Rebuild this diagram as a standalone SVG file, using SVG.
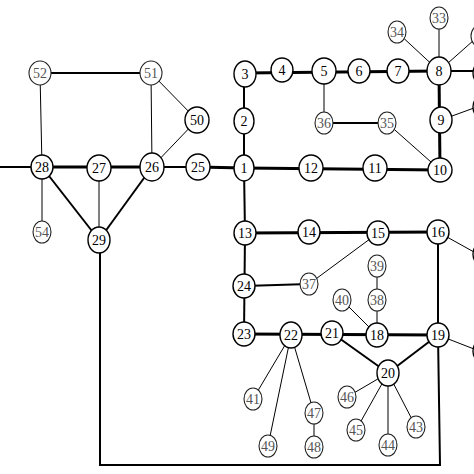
<svg xmlns="http://www.w3.org/2000/svg" width="474" height="474" viewBox="0 0 474 474">
<style>
.n ellipse{fill:#fff;stroke:#000;stroke-width:1.4}
.g ellipse{fill:#fff;stroke:#222;stroke-width:1.1}
text{font-family:"Liberation Serif","DejaVu Serif",serif;font-size:14px;text-anchor:middle;dominant-baseline:central}
.n text{fill:#000}
.g text{fill:#555}
.e line,.e polyline{stroke:#000;fill:none}
.t1{stroke-width:1}
.t2{stroke-width:2}
.t3{stroke-width:3}
</style>
<rect width="474" height="474" fill="#fff"/>
<g class="e" id="connectors">
<line class="t2" x1="0" y1="167" x2="42" y2="167"/>
<line class="t2" x1="40" y1="73" x2="151" y2="73"/>
<line class="t1" x1="40" y1="73" x2="42" y2="167"/>
<line class="t1" x1="151" y1="73" x2="152" y2="167"/>
<line class="t1" x1="151" y1="73" x2="197" y2="120"/>
<line class="t1" x1="197" y1="120" x2="152" y2="167"/>
<line class="t3" x1="42" y1="167" x2="152" y2="167"/>
<line class="t2" x1="152" y1="167" x2="198" y2="167"/>
<line class="t3" x1="198" y1="167" x2="244" y2="168"/>
<line class="t1" x1="42" y1="167" x2="42" y2="232"/>
<line class="t2" x1="42" y1="167" x2="99" y2="240"/>
<line class="t2" x1="152" y1="167" x2="99" y2="240"/>
<line class="t1" x1="99" y1="168" x2="99" y2="240"/>
<polyline class="t2" points="100,240 100,465 440,465 438,335"/>
<line class="t2" x1="244" y1="73" x2="244" y2="168"/>
<line class="t3" x1="244" y1="73" x2="439" y2="71"/>
<line class="t1" x1="324" y1="71" x2="324" y2="123"/>
<line class="t2" x1="324" y1="123" x2="387" y2="123"/>
<line class="t1" x1="387" y1="123" x2="440" y2="170"/>
<line class="t3" x1="439" y1="71" x2="440" y2="170"/>
<line class="t3" x1="244" y1="168" x2="440" y2="170"/>
<line class="t1" x1="439" y1="71" x2="397" y2="32"/>
<line class="t1" x1="439" y1="71" x2="439" y2="18"/>
<line class="t1" x1="439" y1="71" x2="474" y2="40"/>
<line class="t2" x1="439" y1="71" x2="474" y2="71"/>
<line class="t1" x1="441" y1="120" x2="474" y2="108"/>
<line class="t2" x1="244" y1="168" x2="245" y2="233"/>
<line class="t3" x1="245" y1="233" x2="438" y2="232"/>
<line class="t2" x1="245" y1="233" x2="244" y2="334"/>
<line class="t2" x1="244" y1="286" x2="309" y2="284"/>
<line class="t1" x1="378" y1="233" x2="309" y2="284"/>
<line class="t2" x1="438" y1="232" x2="438" y2="335"/>
<line class="t1" x1="438" y1="232" x2="474" y2="252"/>
<line class="t1" x1="438" y1="335" x2="474" y2="349"/>
<line class="t3" x1="244" y1="334" x2="438" y2="335"/>
<line class="t1" x1="377" y1="266" x2="377" y2="335"/>
<line class="t1" x1="342" y1="300" x2="377" y2="335"/>
<line class="t2" x1="332" y1="333" x2="388" y2="373"/>
<line class="t2" x1="388" y1="373" x2="438" y2="335"/>
<line class="t1" x1="388" y1="373" x2="347" y2="397"/>
<line class="t1" x1="388" y1="373" x2="356" y2="430"/>
<line class="t1" x1="388" y1="373" x2="388" y2="445"/>
<line class="t1" x1="388" y1="373" x2="416" y2="427"/>
<line class="t1" x1="291" y1="335" x2="253" y2="399"/>
<line class="t1" x1="291" y1="335" x2="268" y2="446"/>
<line class="t1" x1="291" y1="335" x2="314" y2="413"/>
<line class="t1" x1="314" y1="413" x2="314" y2="447"/>
</g>
<g class="g" id="node52"><ellipse cx="40" cy="73" rx="11" ry="12"/><text x="40" y="73">52</text></g>
<g class="g" id="node51"><ellipse cx="151" cy="73" rx="11" ry="12"/><text x="151" y="73">51</text></g>
<g class="n" id="node50"><ellipse cx="197" cy="120" rx="12" ry="13"/><text x="197" y="120">50</text></g>
<g class="n" id="node28"><ellipse cx="42" cy="167" rx="11" ry="12"/><text x="42" y="167">28</text></g>
<g class="n" id="node27"><ellipse cx="99" cy="168" rx="12" ry="13"/><text x="99" y="168">27</text></g>
<g class="n" id="node26"><ellipse cx="152" cy="167" rx="12" ry="14"/><text x="152" y="167">26</text></g>
<g class="n" id="node25"><ellipse cx="198" cy="167" rx="12" ry="13"/><text x="198" y="167">25</text></g>
<g class="g" id="node54"><ellipse cx="42" cy="232" rx="9" ry="11"/><text x="42" y="232">54</text></g>
<g class="n" id="node29"><ellipse cx="99" cy="240" rx="11" ry="13"/><text x="99" y="240">29</text></g>
<g class="n" id="node1"><ellipse cx="244" cy="168" rx="10" ry="13"/><text x="244" y="168">1</text></g>
<g class="n" id="node2"><ellipse cx="244" cy="121" rx="10" ry="13"/><text x="244" y="121">2</text></g>
<g class="n" id="node3"><ellipse cx="245" cy="74" rx="11" ry="13"/><text x="245" y="74">3</text></g>
<g class="n" id="node4"><ellipse cx="282" cy="70" rx="11" ry="12"/><text x="282" y="70">4</text></g>
<g class="n" id="node5"><ellipse cx="324" cy="71" rx="12" ry="13"/><text x="324" y="71">5</text></g>
<g class="n" id="node6"><ellipse cx="359" cy="71" rx="11" ry="12"/><text x="359" y="71">6</text></g>
<g class="n" id="node7"><ellipse cx="398" cy="71" rx="11" ry="12"/><text x="398" y="71">7</text></g>
<g class="n" id="node8"><ellipse cx="439" cy="71" rx="12" ry="14"/><text x="439" y="71">8</text></g>
<g class="n" id="node9"><ellipse cx="441" cy="120" rx="11" ry="13"/><text x="441" y="120">9</text></g>
<g class="n" id="node10"><ellipse cx="440" cy="170" rx="12" ry="12"/><text x="440" y="170">10</text></g>
<g class="n" id="node11"><ellipse cx="375" cy="168" rx="12" ry="13"/><text x="375" y="168">11</text></g>
<g class="n" id="node12"><ellipse cx="311" cy="168" rx="12" ry="13"/><text x="311" y="168">12</text></g>
<g class="g" id="node36"><ellipse cx="324" cy="123" rx="9" ry="11"/><text x="324" y="123">36</text></g>
<g class="g" id="node35"><ellipse cx="387" cy="123" rx="9" ry="11"/><text x="387" y="123">35</text></g>
<g class="g" id="node34"><ellipse cx="397" cy="32" rx="9" ry="11"/><text x="397" y="32">34</text></g>
<g class="g" id="node33"><ellipse cx="439" cy="18" rx="9" ry="11"/><text x="439" y="18">33</text></g>
<g class="g" id="nodeR1"><ellipse cx="482" cy="36" rx="11" ry="12"/></g>
<g class="n" id="nodeR2"><ellipse cx="484" cy="73" rx="11" ry="12"/></g>
<g class="n" id="nodeR3"><ellipse cx="484" cy="107" rx="11" ry="12"/></g>
<g class="n" id="nodeR4"><ellipse cx="484" cy="254" rx="11" ry="12"/></g>
<g class="n" id="nodeR5"><ellipse cx="484" cy="351" rx="11" ry="12"/></g>
<g class="n" id="node13"><ellipse cx="245" cy="233" rx="11" ry="12"/><text x="245" y="233">13</text></g>
<g class="n" id="node14"><ellipse cx="309" cy="232" rx="11" ry="12"/><text x="309" y="232">14</text></g>
<g class="n" id="node15"><ellipse cx="378" cy="233" rx="11" ry="12"/><text x="378" y="233">15</text></g>
<g class="n" id="node16"><ellipse cx="438" cy="232" rx="11" ry="12"/><text x="438" y="232">16</text></g>
<g class="n" id="node24"><ellipse cx="244" cy="286" rx="11" ry="12"/><text x="244" y="286">24</text></g>
<g class="g" id="node37"><ellipse cx="309" cy="284" rx="9" ry="11"/><text x="309" y="284">37</text></g>
<g class="g" id="node39"><ellipse cx="377" cy="266" rx="9" ry="11"/><text x="377" y="266">39</text></g>
<g class="g" id="node38"><ellipse cx="377" cy="300" rx="9" ry="11"/><text x="377" y="300">38</text></g>
<g class="g" id="node40"><ellipse cx="342" cy="300" rx="9" ry="11"/><text x="342" y="300">40</text></g>
<g class="n" id="node23"><ellipse cx="244" cy="334" rx="11" ry="12"/><text x="244" y="334">23</text></g>
<g class="n" id="node22"><ellipse cx="291" cy="335" rx="11" ry="13"/><text x="291" y="335">22</text></g>
<g class="n" id="node21"><ellipse cx="332" cy="333" rx="11" ry="12"/><text x="332" y="333">21</text></g>
<g class="n" id="node18"><ellipse cx="377" cy="335" rx="11" ry="12"/><text x="377" y="335">18</text></g>
<g class="n" id="node19"><ellipse cx="438" cy="335" rx="11" ry="12"/><text x="438" y="335">19</text></g>
<g class="n" id="node20"><ellipse cx="388" cy="373" rx="11" ry="13"/><text x="388" y="373">20</text></g>
<g class="g" id="node46"><ellipse cx="347" cy="397" rx="9" ry="11"/><text x="347" y="397">46</text></g>
<g class="g" id="node45"><ellipse cx="356" cy="430" rx="9" ry="11"/><text x="356" y="430">45</text></g>
<g class="g" id="node44"><ellipse cx="388" cy="445" rx="9" ry="11"/><text x="388" y="445">44</text></g>
<g class="g" id="node43"><ellipse cx="416" cy="427" rx="9" ry="11"/><text x="416" y="427">43</text></g>
<g class="g" id="node41"><ellipse cx="253" cy="399" rx="9" ry="11"/><text x="253" y="399">41</text></g>
<g class="g" id="node47"><ellipse cx="314" cy="413" rx="9" ry="11"/><text x="314" y="413">47</text></g>
<g class="g" id="node48"><ellipse cx="314" cy="447" rx="9" ry="11"/><text x="314" y="447">48</text></g>
<g class="g" id="node49"><ellipse cx="268" cy="446" rx="9" ry="11"/><text x="268" y="446">49</text></g>
</svg>
